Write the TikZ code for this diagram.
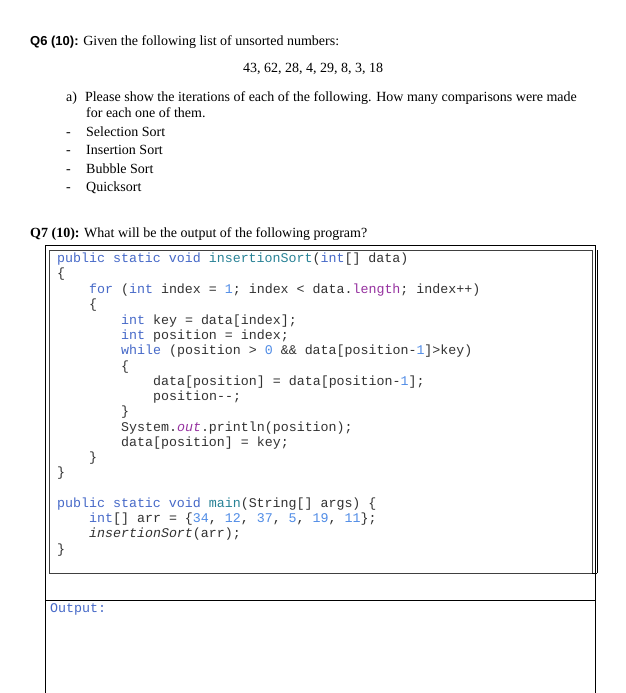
\documentclass[tikz,border=0pt]{standalone}
\usepackage{fontspec}
\setmainfont{Liberation Serif}
\setmonofont{Liberation Mono}
\newfontfamily\sansb{Liberation Sans}
\definecolor{kw}{RGB}{70,105,200}
\definecolor{nm}{RGB}{80,140,230}
\definecolor{mg}{RGB}{150,50,160}
\definecolor{fn}{RGB}{40,130,150}
\definecolor{cd}{RGB}{50,50,50}
\begin{document}
\begin{tikzpicture}[x=1pt,y=-1pt,
  txt/.style={anchor=base west,inner sep=0pt,font=\fontsize{14}{16}\selectfont},
  code/.style={anchor=base west,inner sep=0pt,text=cd,font=\fontsize{13.3}{15}\selectfont\ttfamily}]
\useasboundingbox (0,0) rectangle (626,693);
\fill[white] (0,0) rectangle (626,693);
\node[txt] (q6) at (30,46) {{\sansb\bfseries\fontsize{13}{15}\selectfont Q6 (10):} Given the following list of unsorted numbers:};
\node[txt,anchor=base] (nums) at (313,73) {43, 62, 28, 4, 29, 8, 3, 18};
\node[txt] (a1) at (66,101) {a)\hspace{8pt}Please show the iterations of each of the following. How many comparisons were made};
\node[txt] (a2) at (86,117) {for each one of them.};
\foreach \y/\t [count=\i] in {136/Selection Sort,154/Insertion Sort,173/Bubble Sort,191/Quicksort}{
  \node[txt] (d\i) at (66,\y) {-};
  \node[txt] (l\i) at (86,\y) {\t};
}
\node[txt] (q7) at (30,237) {\textbf{Q7 (10):} What will be the output of the following program?};
% boxes
\draw[line width=0.8pt] (45,693) -- (45,245) -- (595,245) -- (595,693);
\draw[line width=0.8pt,black!75] (49,250) rectangle (592,573);
\draw[line width=0.8pt] (45,600) -- (595,600);
\draw[line width=0.8pt] (592,573) -- (597,573);
\draw[line width=0.8pt] (597,250) -- (597,573);
\node[code,text=kw] (out) at (50,612) {Output:};
% code
\node[code] (c1) at (57,262) {\textcolor{kw}{public static void} \textcolor{fn}{insertionSort}(\textcolor{kw}{int}[] data)};
\node[code] (c2) at (57,277) {\{};
\node[code] (c3) at (89,293) {\textcolor{kw}{for} (\textcolor{kw}{int} index = \textcolor{nm}{1}; index < data.\textcolor{mg}{length}; index++)};
\node[code] (c4) at (89,308) {\{};
\node[code] (c5) at (121,324) {\textcolor{kw}{int} key = data[index];};
\node[code] (c6) at (121,339) {\textcolor{kw}{int} position = index;};
\node[code] (c7) at (121,354) {\textcolor{kw}{while} (position > \textcolor{nm}{0} \&\& data[position-\textcolor{nm}{1}]>key)};
\node[code] (c8) at (121,370) {\{};
\node[code] (c9) at (153,385) {data[position] = data[position-\textcolor{nm}{1}];};
\node[code] (c10) at (153,400) {position--;};
\node[code] (c11) at (121,415) {\}};
\node[code] (c12) at (121,431) {System.\textcolor{mg}{\itshape out}.println(position);};
\node[code] (c13) at (121,446) {data[position] = key;};
\node[code] (c14) at (89,461) {\}};
\node[code] (c15) at (57,476) {\}};
\node[code] (c16) at (57,507) {\textcolor{kw}{public static void} \textcolor{fn}{main}(String[] args) \{};
\node[code] (c17) at (89,522) {\textcolor{kw}{int}[] arr = \{\textcolor{nm}{34}, \textcolor{nm}{12}, \textcolor{nm}{37}, \textcolor{nm}{5}, \textcolor{nm}{19}, \textcolor{nm}{11}\};};
\node[code] (c18) at (89,537) {{\itshape insertionSort}(arr);};
\node[code] (c19) at (57,553) {\}};
\end{tikzpicture}
\end{document}
